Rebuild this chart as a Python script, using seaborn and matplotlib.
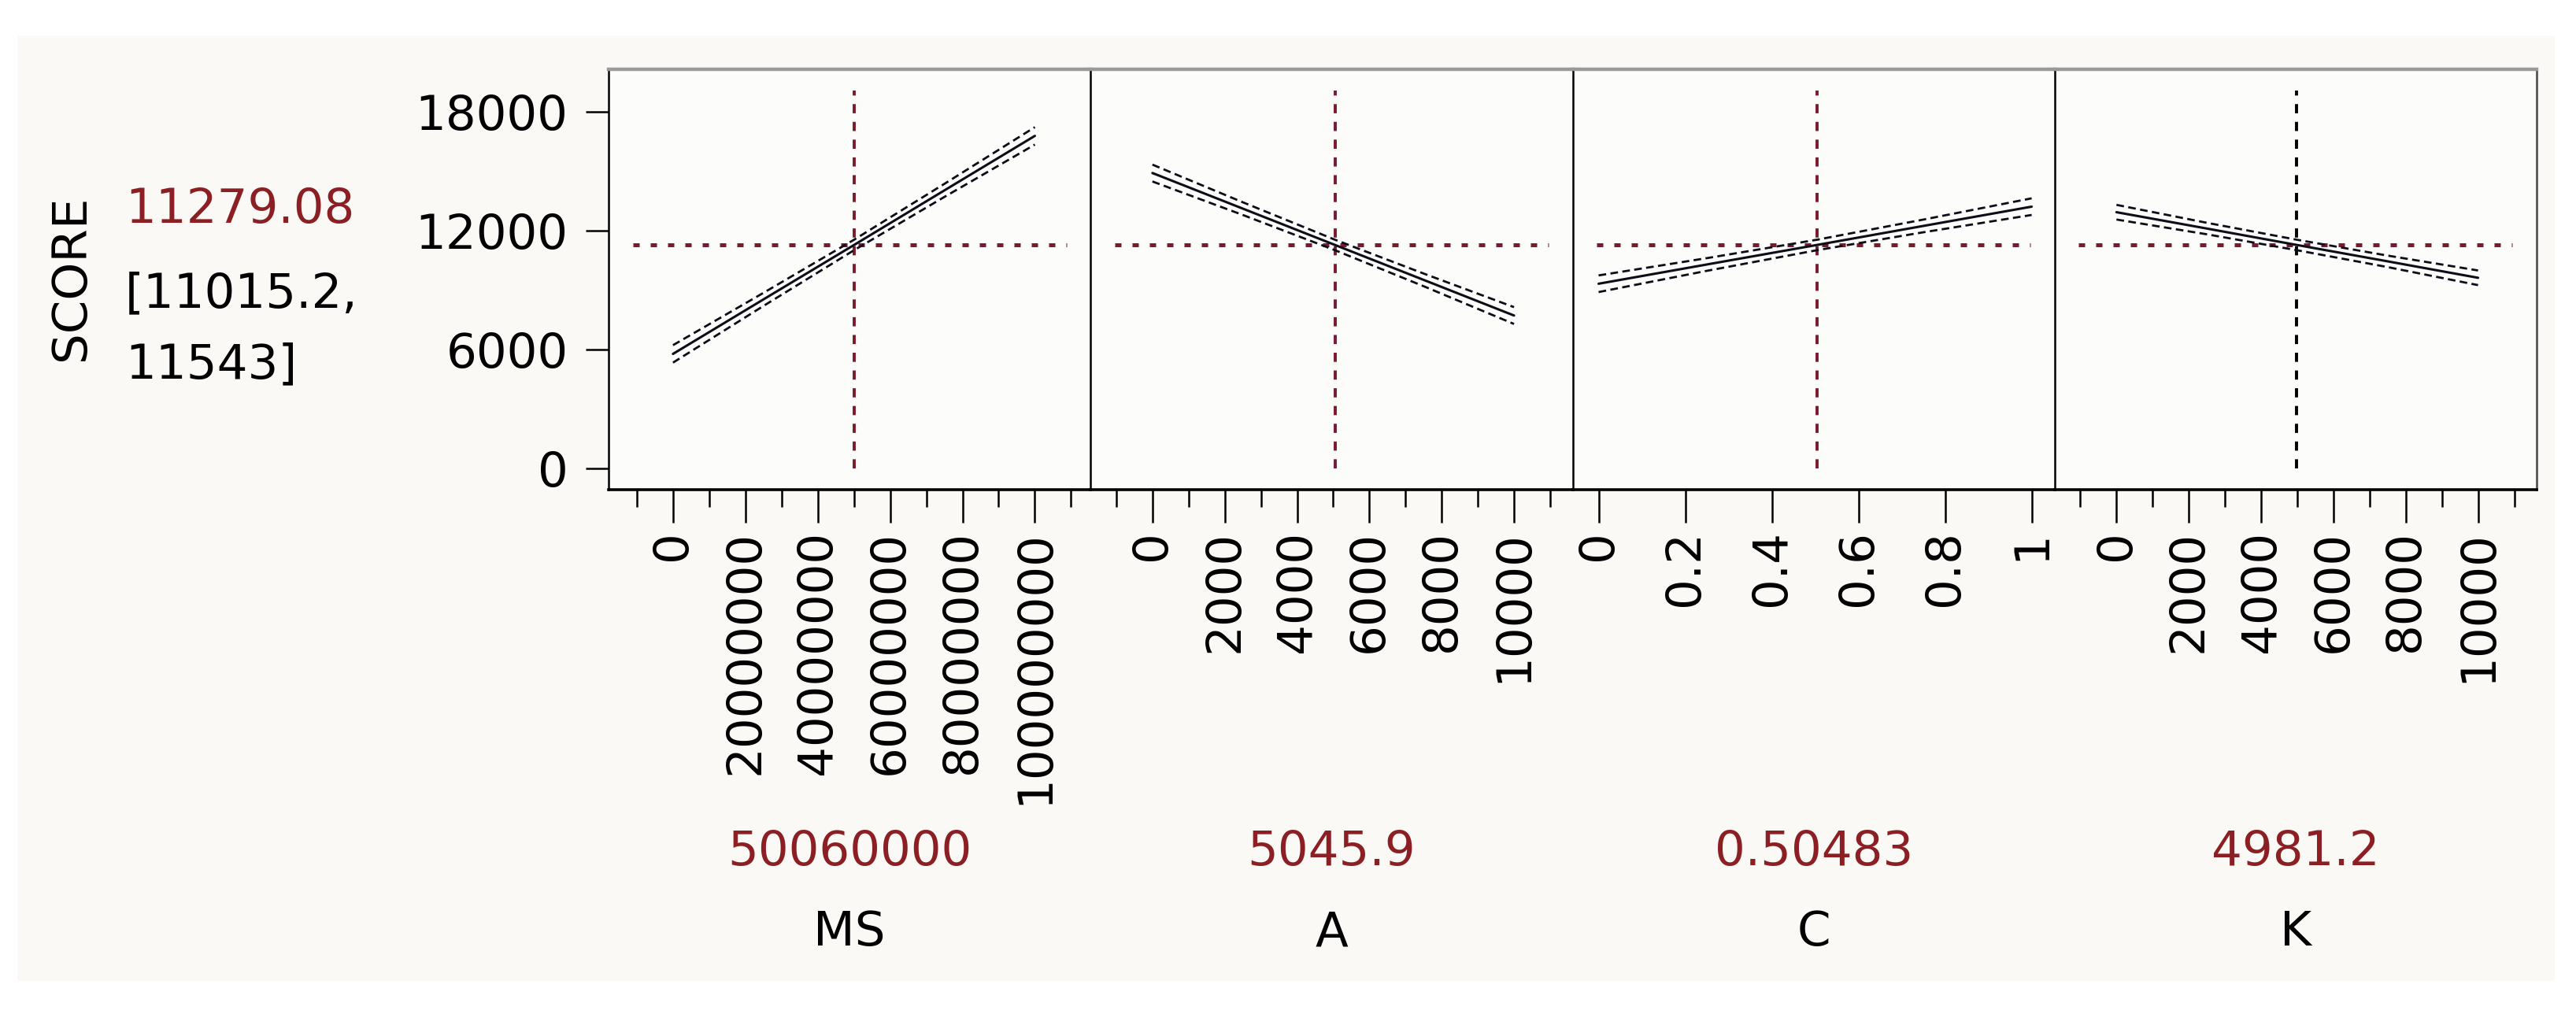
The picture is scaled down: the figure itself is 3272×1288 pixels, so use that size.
import numpy as np
import pandas as pd
import matplotlib
matplotlib.use("Agg")
import matplotlib.pyplot as plt
from matplotlib.patches import Rectangle
from matplotlib.ticker import FixedLocator, FuncFormatter
import seaborn as sns

# --- values ---
factors = ["MS", "A", "C", "K"]
current_values = [50060000, 5045.9, 0.50483, 4981.2]
current_labels = ["50060000", "5045.9", "0.50483", "4981.2"]

score_pred = 11279.08
score_ci = [11015.2, 11543]

ms_x = [0, 25e6, 50.06e6, 75e6, 100e6]
ms_pred = [5780, 8530, 11279, 14030, 16780]
ms_lower = [5340, 8200, 11015, 13700, 16340]
ms_upper = [6220, 8860, 11543, 14360, 17220]

a_x = [0, 2500, 5045.9, 7500, 10000]
a_pred = [14907, 13110, 11279, 9515, 7717]
a_lower = [14480, 12790, 11015, 9195, 7290]
a_upper = [15330, 13430, 11543, 9835, 8140]

c_x = [0, 0.25, 0.50483, 0.75, 1]
c_pred = [9320, 10292, 11279, 12237, 13210]
c_lower = [8900, 9972, 11015, 11917, 12790]
c_upper = [9740, 10612, 11543, 12557, 13630]

k_x = [0, 2500, 4981.2, 7500, 10000]
k_pred = [12930, 12105, 11279, 10450, 9620]
k_lower = [12560, 11815, 11015, 10160, 9250]
k_upper = [13300, 12395, 11543, 10740, 9990]

y_ticks = [0, 6000, 12000, 18000]

ms_major = [0, 20e6, 40e6, 60e6, 80e6, 100e6]
ms_minor = [-10e6, 10e6, 30e6, 50e6, 70e6, 90e6, 110e6]
ak_major = [0, 2000, 4000, 6000, 8000, 10000]
ak_minor = [-1000, 1000, 3000, 5000, 7000, 9000, 11000]
c_major = [0, 0.2, 0.4, 0.6, 0.8, 1]

series = [
    (ms_x, ms_pred, ms_lower, ms_upper),
    (a_x, a_pred, a_lower, a_upper),
    (c_x, c_pred, c_lower, c_upper),
    (k_x, k_pred, k_lower, k_upper),
]
majors = [ms_major, ak_major, c_major, ak_major]
minors = [ms_minor, ak_minor, [], ak_minor]
xlims = [(-17.8e6, 115.4e6), (-1710, 11620), (-0.06, 1.053), (-1710, 11620)]

sns.set_theme(style="ticks")
plt.rcParams["font.family"] = ["DejaVu Sans"]

W, H, DPI = 3272, 1288, 200
fig = plt.figure(figsize=(W / DPI, H / DPI), dpi=DPI, facecolor="white")
fig.patches.append(Rectangle((22 / W, 1 - 1246 / H), (3245 - 22) / W, (1246 - 45) / H,
                             transform=fig.transFigure, facecolor="#faf9f6",
                             edgecolor="none", zorder=-10))

red = "#8b1f24"
ref_red = "#7a1a2c"
ink = "#0d0d1a"
fs = 22

left0 = 773 / W
pw = 612.25 / W
bottom = 1 - 622 / H
ph = 534 / H

for i, (name, cur, lab, (xs, pred, lo, hi)) in enumerate(zip(factors, current_values, current_labels, series)):
    ax = fig.add_axes([left0 + i * pw, bottom, pw, ph])
    ax.set_facecolor("#fcfcfa")

    df = pd.DataFrame({"x": xs, "pred": pred, "lower": lo, "upper": hi})
    sns.lineplot(data=df, x="x", y="lower", ax=ax, color=ink, lw=1.0,
                 linestyle=(0, (3.5, 2)), estimator=None, sort=False)
    sns.lineplot(data=df, x="x", y="upper", ax=ax, color=ink, lw=1.0,
                 linestyle=(0, (3.5, 2)), estimator=None, sort=False)
    sns.lineplot(data=df, x="x", y="pred", ax=ax, color=ink, lw=1.1,
                 estimator=None, sort=False)

    ax.axhline(score_pred, xmin=0.05, xmax=0.95, color=ref_red, lw=1.8,
               linestyle=(0, (1.6, 2.8)), zorder=1)
    vcol = "black" if name == "K" else ref_red
    ax.axvline(cur, ymin=0.05, ymax=0.95, color=vcol, lw=1.4,
               linestyle=(0, (3, 2.8)), zorder=1)

    ax.set_xlim(*xlims[i])
    ax.set_ylim(-1070, 20140)
    ax.set_xlabel("")
    ax.set_ylabel("")

    ax.xaxis.set_major_locator(FixedLocator(majors[i]))
    ax.xaxis.set_minor_locator(FixedLocator(minors[i]))
    ax.xaxis.set_major_formatter(FuncFormatter(lambda v, p: f"{v:g}" if abs(v) < 1000 else f"{v:.0f}"))
    ax.tick_params(axis="x", which="major", length=15, width=0.9, pad=3.5,
                   labelsize=fs, labelrotation=90, color="black", labelcolor="black",
                   direction="out")
    ax.tick_params(axis="x", which="minor", length=8, width=0.9, color="black", direction="out")

    if i == 0:
        ax.set_yticks(y_ticks)
        ax.tick_params(axis="y", length=10.5, width=0.9, pad=8, labelsize=fs,
                       color="black", labelcolor="black", direction="out")
    else:
        ax.set_yticks([])

    for s in ["left", "right", "top", "bottom"]:
        ax.spines[s].set_visible(True)
    ax.spines["top"].set_color("#9a9a9a")
    ax.spines["top"].set_linewidth(1.6)
    ax.spines["bottom"].set_color("black")
    ax.spines["bottom"].set_linewidth(1.3)
    ax.spines["left"].set_color("black")
    ax.spines["left"].set_linewidth(0.9)
    if i < 3:
        ax.spines["right"].set_visible(False)
    else:
        ax.spines["right"].set_color("#555555")
        ax.spines["right"].set_linewidth(1.0)

    cx = left0 + (i + 0.5) * pw
    fig.text(cx, 1 - 1099 / H, lab, ha="center", va="baseline", fontsize=fs, color=red)
    fig.text(cx, 1 - 1201 / H, name, ha="center", va="baseline", fontsize=fs, color="black")

fig.text(91 / W, 1 - 353 / H, "SCORE", rotation=90, ha="center", va="center",
         fontsize=fs, color="black")
fig.text(159 / W, 1 - 283 / H, f"{score_pred:.2f}", ha="left", va="baseline",
         fontsize=fs, color=red)
fig.text(159 / W, 1 - 390 / H, f"[{score_ci[0]},", ha="left", va="baseline",
         fontsize=fs, color="black")
fig.text(159 / W, 1 - 480 / H, f"{score_ci[1]}]", ha="left", va="baseline",
         fontsize=fs, color="black")

fig.savefig("out.png", dpi=DPI, facecolor=fig.get_facecolor())
